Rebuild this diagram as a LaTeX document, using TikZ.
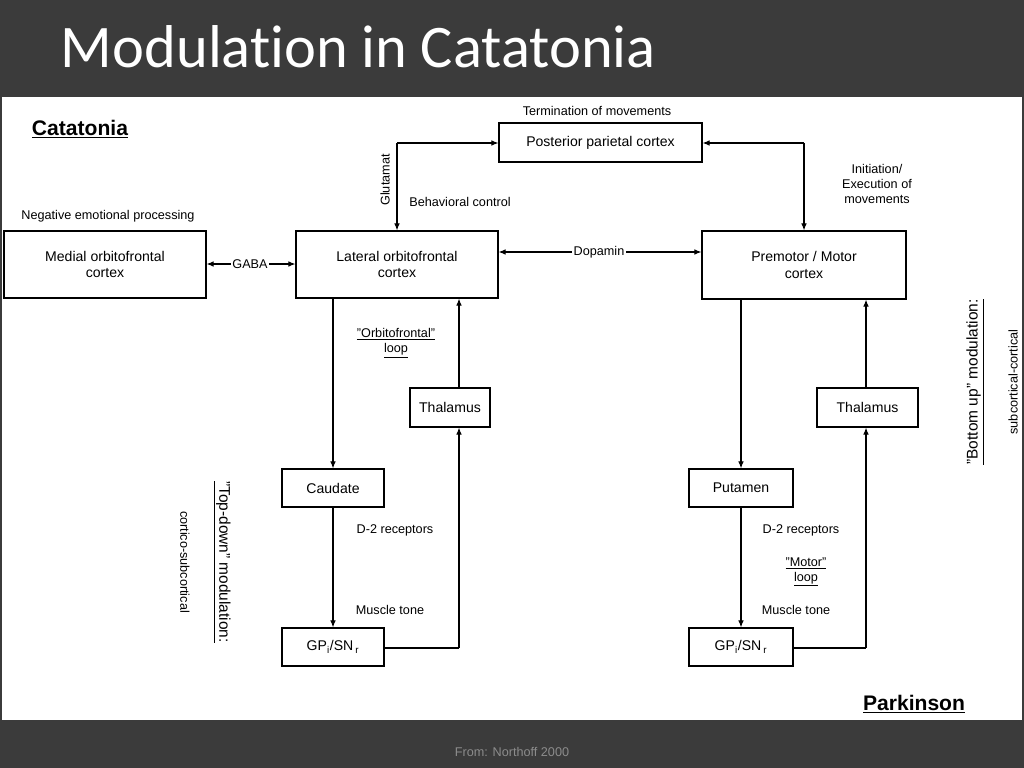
\documentclass[tikz,border=0pt]{standalone}
\usepackage{fontspec}
\setmainfont{Liberation Sans}
\newfontfamily\titlefont[Ligatures={NoCommon,NoDiscretionary,NoRare}]{Carlito}
\usetikzlibrary{arrows.meta}
\tikzstyle{box} = [draw, thick, rectangle, inner sep=0pt, align=center, font=\fontsize{10}{12}\selectfont]
\tikzstyle{lbl} = [inner sep=1pt, align=center, font=\fontsize{9}{10.5}\selectfont]
\tikzstyle{arr} = [thick, -{Latex[length=5pt,width=4pt]}]
\tikzstyle{darr} = [thick, {Latex[length=5pt,width=4pt]}-{Latex[length=5pt,width=4pt]}]

\begin{document}
\begin{tikzpicture}[x=0.025cm, y=-0.025cm]
\useasboundingbox (0,0) rectangle (1024,768);
\fill[black!77] (0,0) rectangle (1024,768);
\fill[white] (2,97) rectangle (1022,720);
\node[anchor=west, text=white, font=\titlefont\fontsize{43}{45}\selectfont] (title) at (56,47) {Modulation in Catatonia};
\node[text=black!45, font=\fontsize{9}{10}\selectfont] (source) at (512,752) {From: Northoff 2000};

% cortex boxes
\node[box, minimum width=203*0.025cm, minimum height=39*0.025cm] (ppc) at (600.5,142.5) {Posterior parietal cortex};
\node[box, minimum width=202*0.025cm, minimum height=67*0.025cm] (mofc) at (105,264.5) {Medial orbitofrontal\\cortex};
\node[box, minimum width=202*0.025cm, minimum height=67*0.025cm] (lofc) at (397,264.5) {Lateral orbitofrontal\\cortex};
\node[box, minimum width=204*0.025cm, minimum height=68*0.025cm] (motor) at (804,265) {Premotor / Motor\\cortex};

% subcortical boxes
\node[box, minimum width=80*0.025cm, minimum height=39*0.025cm] (thalL) at (450,407.5) {Thalamus};
\node[box, minimum width=102*0.025cm, minimum height=38*0.025cm] (caudate) at (333,488) {Caudate};
\node[box, minimum width=102*0.025cm, minimum height=38*0.025cm] (gpL) at (333,647) {GP$_{\mathrm{i}}$/SN$_{\,\mathrm{r}}$};
\node[box, minimum width=101*0.025cm, minimum height=39*0.025cm] (thalR) at (867.5,407.5) {Thalamus};
\node[box, minimum width=104*0.025cm, minimum height=38*0.025cm] (putamen) at (741,488) {Putamen};
\node[box, minimum width=104*0.025cm, minimum height=38*0.025cm] (gpR) at (741,647) {GP$_{\mathrm{i}}$/SN$_{\,\mathrm{r}}$};

% corner points
\coordinate (ppcL) at (397,143);
\coordinate (ppcR) at (804,143);
\coordinate (gpLc) at (459,648);
\coordinate (gpRc) at (866,648);

% connectors
\node[lbl, fill=white] (gaba) at (250,264) {GABA};
\draw[arr] (gaba) -- (lofc.west|-gaba);
\draw[arr] (gaba) -- (mofc.east|-gaba);
\node[lbl, fill=white] (dopa) at (599,252) {Dopamin};
\draw[arr] (dopa) -- (lofc.east|-dopa);
\draw[arr] (dopa) -- (motor.west|-dopa);
\draw[arr] (ppcL) -- (ppc.west|-ppcL);
\draw[arr] (ppcL) -- (lofc.north-|ppcL);
\draw[arr] (ppcR) -- (ppc.east|-ppcR);
\draw[arr] (ppcR) -- (motor.north-|ppcR);
\draw[arr] (lofc.south-|caudate) -- (caudate);
\draw[arr] (caudate) -- (gpL);
\draw[thick] (gpL.east|-gpLc) -- (gpLc);
\draw[arr] (gpLc) -- (thalL.south-|gpLc);
\draw[arr] (thalL.north-|gpLc) -- (lofc.south-|gpLc);
\draw[arr] (motor.south-|putamen) -- (putamen);
\draw[arr] (putamen) -- (gpR);
\draw[thick] (gpR.east|-gpRc) -- (gpRc);
\draw[arr] (gpRc) -- (thalR.south-|gpRc);
\draw[arr] (thalR.north-|gpRc) -- (motor.south-|gpRc);

% labels
\node[lbl] (term) at (597,111) {Termination of movements};
\node[lbl, rotate=90] (glut) at (385,180) {Glutamat};
\node[lbl] (behav) at (460,202) {Behavioral control};
\node[lbl] (init) at (877,184) {Initiation/\\Execution of\\movements};
\node[lbl] (neg) at (108,216) {Negative emotional processing};
\node[lbl] (ofloop) at (396,343) {\underline{"Orbitofrontal"}\\\underline{loop}};
\node[lbl] (d2L) at (395,530) {D-2 receptors};
\node[lbl] (toneL) at (390,610) {Muscle tone};
\node[lbl] (d2R) at (801,530) {D-2 receptors};
\node[lbl] (motloop) at (806,572) {\underline{"Motor"}\\\underline{loop}};
\node[lbl] (toneR) at (796,610) {Muscle tone};
\node[font=\bfseries\fontsize{15}{16}\selectfont] (cat) at (80,129) {\underline{Catatonia}};
\node[font=\bfseries\fontsize{15}{16}\selectfont] (park) at (914,704) {\underline{Parkinson}};
\node[rotate=-90, font=\fontsize{11}{12}\selectfont] (topdown) at (222,562) {\underline{"Top-down" modulation:}};
\node[lbl, rotate=-90] (cortsub) at (185,562) {cortico-subcortical};
\node[rotate=90, font=\fontsize{11}{12}\selectfont] (botup) at (975,382) {\underline{"Bottom up" modulation:}};
\node[lbl, rotate=90] (subcort) at (1013,382) {subcortical-cortical};
\end{tikzpicture}
\end{document}
